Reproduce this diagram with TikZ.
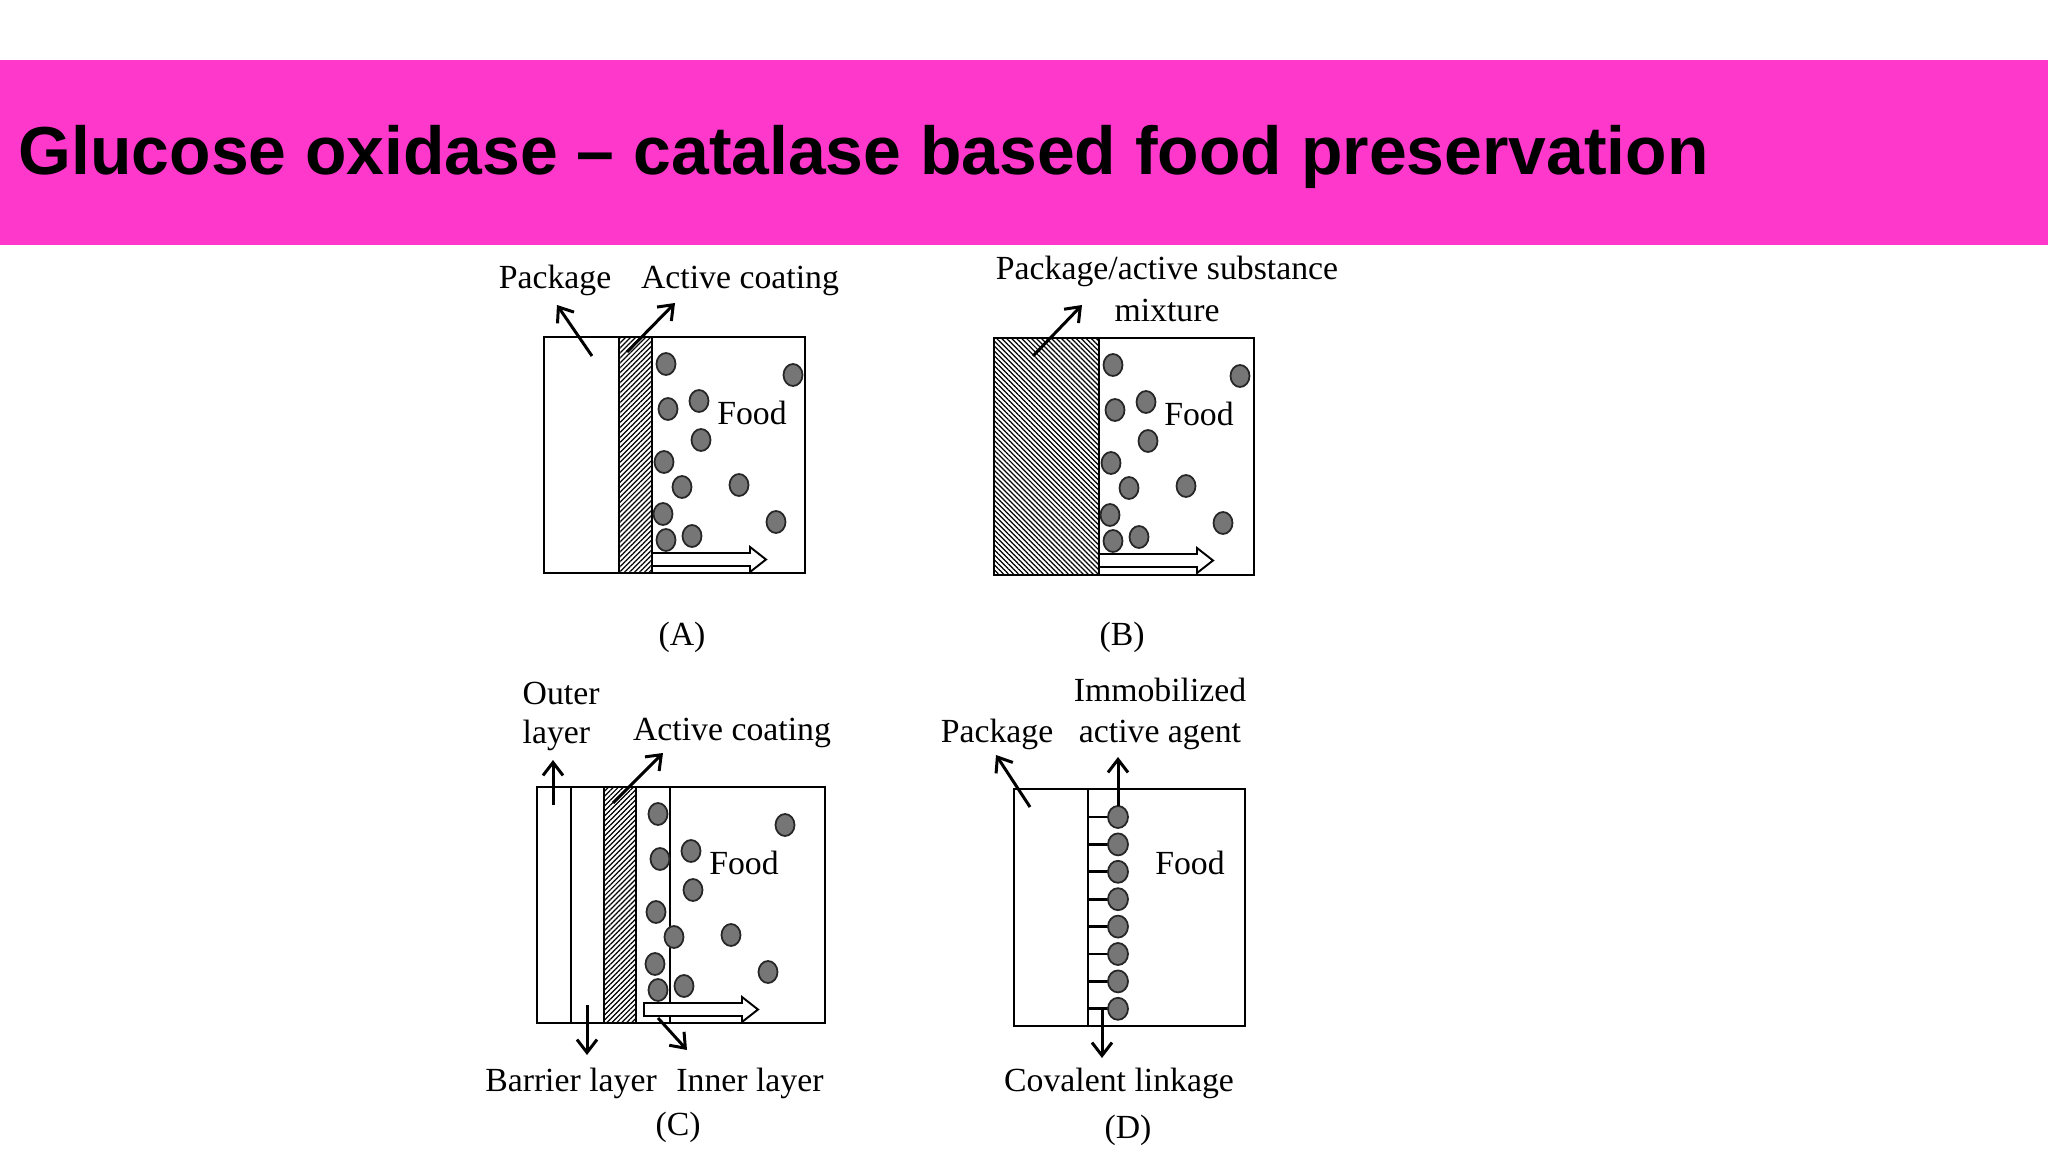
\documentclass[tikz,border=0pt]{standalone}
\usepackage{fontspec}
\setmainfont{Liberation Serif}
\newfontfamily\titlefont{Liberation Sans}
\usetikzlibrary{arrows.meta,patterns.meta}
\definecolor{bannerpink}{HTML}{FF38CC}
\definecolor{dotgray}{HTML}{767676}

\begin{document}
\begin{tikzpicture}[
  x=0.01cm, y=-0.01cm,
  frame/.style={draw, line width=0.65pt},
  coatne/.style={frame, pattern={Lines[angle=45,distance=1pt,line width=0.35pt]}},
  coatnw/.style={frame, pattern={Lines[angle=-45,distance=1pt,line width=0.35pt]}},
  lbl/.style={font=\fontsize{9.6}{11.5}\selectfont, inner sep=0pt},
  arrow/.style={-{Straight Barb[length=1.3mm,width=2mm]}, line width=0.85pt},
  dot/.style={draw=black!85, fill=dotgray, line width=0.5pt},
  hollow/.style={draw, fill=white, line width=0.55pt}
]
\useasboundingbox (0,0) rectangle (2048,1152);
\fill[white] (0,0) rectangle (2048,1152);
\fill[bannerpink] (0,60) rectangle (2048,245);
\node[anchor=base west, inner sep=0pt, font={\titlefont\bfseries\fontsize{19.3}{23}\selectfont}] (title) at (18,175) {Glucose oxidase – catalase based food preservation};

\draw[frame] (544,337) rectangle (805,573);
\draw[coatne] (619,337) rectangle (652,573);
\draw[frame] (994,338) rectangle (1254,575);
\draw[coatnw] (994,338) rectangle (1099,575);
\draw[frame] (537,787) rectangle (825,1023);
\draw[frame] (571,787) -- (571,1023);
\draw[coatne] (604,787) rectangle (636,1023);
\draw[frame] (670,787) -- (670,1023);
\draw[frame] (1014,789) rectangle (1245,1026);
\draw[frame] (1088,789) -- (1088,1026);

\foreach \ox/\oy/\p in {652/337/a, 1099/338/b, 644/787/c} {
  \foreach \dx/\dy in {14/27, 141/38, 16/72, 47/64, 49/103, 12/125, 30/150, 87/148, 11/177, 124/185, 14/203, 40/199}
    \draw[dot] (\ox+\dx,\oy+\dy) ellipse [x radius=9.5, y radius=11];
  \node[lbl] (food\p) at (\ox+100,\oy+76) {Food};
  \draw[hollow] (\ox,\oy+216) -- ++(98,0) -- ++(0,-6) -- ++(16,12.5) -- ++(-16,12.5) -- ++(0,-6) -- ++(-98,0) -- cycle;
}
\foreach \i in {0,...,7} {
  \draw[frame, line width=0.8pt] (1088,817+27.4*\i) -- ++(21,0);
  \draw[dot] (1118,817+27.4*\i) ellipse [x radius=10, y radius=11];
}
\node[lbl] (foodd) at (1190,863) {Food};

\node[lbl, anchor=base] (pkga) at (555,289) {Package};
\node[lbl, anchor=base] (coata) at (740,289) {Active coating};
\coordinate (pkgafrom) at (592,356);
\coordinate (pkgato) at (557,305);
\coordinate (coatafrom) at (627,352);
\coordinate (coatato) at (675,303);
\draw[arrow] (pkgafrom) -- (pkgato);
\draw[arrow] (coatafrom) -- (coatato);
\node[lbl] (capa) at (682,637) {(A)};

\node[lbl, anchor=base] (mixb1) at (1167,280) {Package/active substance};
\node[lbl, anchor=base] (mixb2) at (1167,322) {mixture};
\coordinate (mixbfrom) at (1033,356);
\coordinate (mixbto) at (1082,305);
\draw[arrow] (mixbfrom) -- (mixbto);
\node[lbl] (capb) at (1122,637) {(B)};

\node[lbl, anchor=base west] (outerc1) at (522,705) {Outer};
\node[lbl, anchor=base west] (outerc2) at (522,743) {layer};
\node[lbl, anchor=base] (coatc) at (732,740) {Active coating};
\node[lbl, anchor=base] (barc) at (571,1091) {Barrier layer};
\node[lbl, anchor=base] (innerc) at (750,1091) {Inner layer};
\node[lbl] (capc) at (678,1127) {(C)};
\coordinate (outercfrom) at (553,805);
\coordinate (outercto) at (553,760);
\coordinate (coatcfrom) at (613,803);
\coordinate (coatcto) at (663,753);
\coordinate (barcfrom) at (587,1005);
\coordinate (barcto) at (587,1055);
\coordinate (innercfrom) at (658,1018);
\coordinate (innercto) at (687,1050);
\draw[arrow] (outercfrom) -- (outercto);
\draw[arrow] (coatcfrom) -- (coatcto);
\draw[arrow] (barcfrom) -- (barcto);
\draw[arrow] (innercfrom) -- (innercto);

\node[lbl, anchor=base] (pkgd) at (997,742) {Package};
\node[lbl, anchor=base] (immd1) at (1160,702) {Immobilized};
\node[lbl, anchor=base] (immd2) at (1160,742) {active agent};
\node[lbl, anchor=base] (covd) at (1119,1091) {Covalent linkage};
\node[lbl] (capd) at (1128,1130) {(D)};
\coordinate (pkgdfrom) at (1030,807);
\coordinate (pkgdto) at (996,755);
\coordinate (immdfrom) at (1118,806);
\coordinate (immdto) at (1118,757);
\coordinate (covdfrom) at (1102,1009);
\coordinate (covdto) at (1102,1058);
\draw[arrow] (pkgdfrom) -- (pkgdto);
\draw[arrow] (immdfrom) -- (immdto);
\draw[arrow] (covdfrom) -- (covdto);
\end{tikzpicture}
\end{document}
